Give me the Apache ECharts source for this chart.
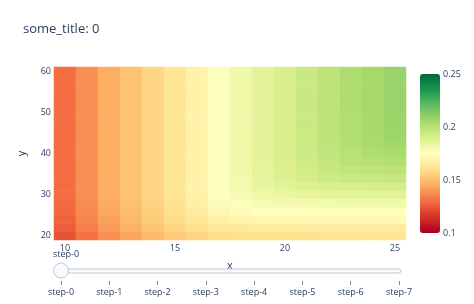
<!DOCTYPE html>
<html><head><meta charset="utf-8">
<script src="https://cdn.jsdelivr.net/npm/echarts@6/dist/echarts.min.js"></script>
<style>html,body{margin:0;padding:0;background:#fff}#c{width:474px;height:304px}</style>
</head><body><div id="c"></div>
<script>
const titleText = 'some_title: 0';
const xVals = ['10','11','12','13','14','15','16','17','18','19','20','21','22','23','24','25'];
const yVals = ['20','22','24','26','28','30','32','34','36','38','40','42','44','46','48','50','52','54','56','58','60'];
const xTickLabels = ['10','15','20','25'];
const yTickLabels = ['20','30','40','50','60'];
const colorMin = 0.1, colorMax = 0.25, colorStep = 0.05;
const steps = ['step-0','step-1','step-2','step-3','step-4','step-5','step-6','step-7'];
const currentStep = 'step-0';
const xName = 'x', yName = 'y';
// rows from y=20 (bottom) to y=60 (top), columns x=10..25
const zRows = [
 [.1235,.1311,.1378,.1432,.1485,.1533,.1571,.1599,.1610,.1615,.1617,.1619,.1622,.1624,.1626,.1628],
 [.1261,.1339,.1407,.1463,.1517,.1567,.1607,.1637,.1649,.1655,.1657,.1658,.1660,.1661,.1662,.1663],
 [.1274,.1352,.1421,.1479,.1536,.1590,.1638,.1680,.1700,.1710,.1715,.1717,.1718,.1719,.1720,.1721],
 [.1287,.1366,.1436,.1495,.1552,.1609,.1661,.1709,.1733,.1746,.1752,.1755,.1758,.1759,.1760,.1761],
 [.1294,.1373,.1443,.1502,.1561,.1619,.1675,.1732,.1762,.1785,.1796,.1803,.1805,.1808,.1809,.1810],
 [.1300,.1380,.1450,.1510,.1570,.1629,.1686,.1750,.1788,.1818,.1835,.1846,.1853,.1855,.1857,.1858],
 [.1300,.1380,.1450,.1510,.1570,.1630,.1688,.1755,.1800,.1838,.1863,.1882,.1894,.1901,.1904,.1906],
 [.1300,.1380,.1450,.1510,.1570,.1630,.1690,.1758,.1805,.1850,.1881,.1908,.1928,.1941,.1948,.1952],
 [.1300,.1380,.1450,.1510,.1570,.1630,.1690,.1759,.1807,.1855,.1890,.1921,.1948,.1968,.1978,.1986],
 [.1300,.1380,.1450,.1510,.1570,.1630,.1690,.1760,.1809,.1857,.1894,.1930,.1961,.1988,.2001,.2015],
 [.1300,.1380,.1450,.1510,.1570,.1630,.1690,.1760,.1810,.1859,.1897,.1934,.1970,.2001,.2022,.2038],
 [.1300,.1380,.1450,.1510,.1570,.1630,.1690,.1760,.1810,.1860,.1899,.1937,.1974,.2010,.2034,.2055],
 [.1300,.1380,.1450,.1510,.1570,.1630,.1690,.1760,.1810,.1860,.1900,.1939,.1977,.2014,.2041,.2066],
 [.1300,.1380,.1450,.1510,.1570,.1630,.1690,.1760,.1810,.1860,.1900,.1940,.1979,.2017,.2045,.2072],
 [.1300,.1380,.1450,.1510,.1570,.1630,.1690,.1760,.1810,.1860,.1900,.1940,.1980,.2019,.2048,.2076],
 [.1300,.1380,.1450,.1510,.1570,.1630,.1690,.1760,.1810,.1860,.1900,.1940,.1980,.2020,.2050,.2078],
 [.1300,.1380,.1450,.1510,.1570,.1630,.1690,.1760,.1810,.1860,.1900,.1940,.1980,.2020,.2050,.2080],
 [.1300,.1380,.1450,.1510,.1570,.1630,.1690,.1760,.1810,.1860,.1900,.1940,.1980,.2020,.2050,.2080],
 [.1300,.1380,.1450,.1510,.1570,.1630,.1690,.1760,.1810,.1860,.1900,.1940,.1980,.2020,.2050,.2080],
 [.1300,.1380,.1450,.1510,.1570,.1630,.1690,.1760,.1810,.1860,.1900,.1940,.1980,.2020,.2050,.2080],
 [.1300,.1380,.1450,.1510,.1570,.1630,.1690,.1760,.1810,.1860,.1900,.1940,.1980,.2020,.2050,.2080]
];
const rdylgn = ['#a50026','#d73027','#f46d43','#fdae61','#fee08b','#ffffbf','#d9ef8b','#a6d96a','#66bd63','#1a9850','#006837'];

const FONT = '"Open Sans", Arial, sans-serif';
const TXT = '#2a3f5f';
const data = [];
zRows.forEach((row, r) => row.forEach((v, c) => data.push([c, r, v])));

const chart = echarts.init(document.getElementById('c'), null, {renderer: 'canvas'});
chart.setOption({
  animation: false,
  textStyle: {fontFamily: FONT},
  title: {text: titleText, left: 23, top: 23, padding: 0,
    textStyle: {fontFamily: FONT, fontSize: 13, fontWeight: 'normal', color: TXT}},
  grid: [
    {left: 54, top: 67, width: 352, height: 173},
    {left: 420, top: 74, width: 20, height: 159},
    {left: 61, top: 270, width: 338, height: 11}
  ],
  xAxis: [
    {gridIndex: 0, type: 'category', data: xVals, boundaryGap: true,
     axisLine: {show: false}, axisTick: {show: false}, splitLine: {show: false},
     axisLabel: {interval: (i, v) => xTickLabels.includes(v), margin: 4, fontSize: 9, color: TXT, fontFamily: FONT},
     name: xName, nameLocation: 'middle', nameGap: 20,
     nameTextStyle: {fontSize: 11, color: TXT, fontFamily: FONT}},
    {gridIndex: 1, type: 'value', show: false},
    {gridIndex: 2, type: 'category', data: steps, boundaryGap: false,
     axisLine: {show: false}, axisTick: {show: true, length: 4, lineStyle: {color: '#888', width: 1}},
     splitLine: {show: false},
     axisLabel: {interval: 0, margin: 7, fontSize: 9, color: TXT, fontFamily: FONT}}
  ],
  yAxis: [
    {gridIndex: 0, type: 'category', data: yVals, boundaryGap: true,
     axisLine: {show: false}, axisTick: {show: false}, splitLine: {show: false},
     axisLabel: {interval: (i, v) => yTickLabels.includes(v), margin: 3, fontSize: 9, color: TXT, fontFamily: FONT},
     name: yName, nameLocation: 'middle', nameGap: 27, nameRotate: 90,
     nameTextStyle: {fontSize: 11, color: TXT, fontFamily: FONT}},
    {gridIndex: 1, type: 'value', min: colorMin, max: colorMax, interval: colorStep, position: 'right',
     axisLine: {show: false}, axisTick: {show: false}, splitLine: {show: false},
     axisLabel: {margin: 3, fontSize: 9, color: TXT, fontFamily: FONT, formatter: v => String(+v.toFixed(2))}},
    {gridIndex: 2, type: 'value', show: false, min: 0, max: 1}
  ],
  visualMap: {type: 'continuous', min: colorMin, max: colorMax, calculable: false, realtime: false,
    left: 420, top: 74, itemWidth: 20, itemHeight: 159, padding: 0, seriesIndex: 0, hoverLink: false,
    inRange: {color: rdylgn}},
  graphic: [
    {type: 'rect', shape: {x: 57, y: 269, width: 344, height: 4, r: 2}, z: 10,
     style: {fill: '#f8fafc', stroke: '#bec8d9', lineWidth: 1}},
    {type: 'circle', shape: {cx: 61, cy: 270.5, r: 7.5}, z: 11,
     style: {fill: '#f8fafc', stroke: '#bec8d9', lineWidth: 1}},
    {type: 'text', left: 53, top: 250, z: 11,
     style: {text: currentStep, font: '9px ' + FONT, fill: TXT}}
  ],
  series: [{
    type: 'heatmap', xAxisIndex: 0, yAxisIndex: 0, data: data,
    itemStyle: {borderWidth: 0}, emphasis: {disabled: true}, progressive: 0
  }]
});
</script></body></html>
